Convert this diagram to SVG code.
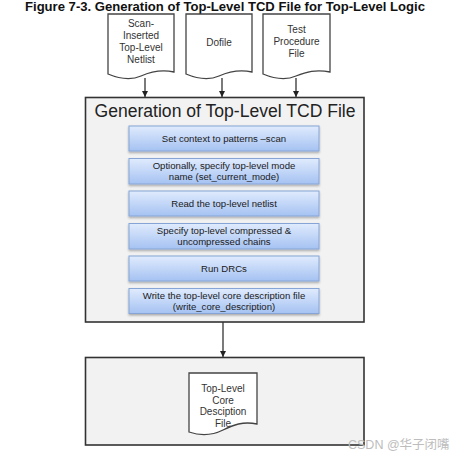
<svg xmlns="http://www.w3.org/2000/svg" width="474" height="460" viewBox="0 0 474 460">
<style>
.t{font-family:"Liberation Sans",Arial,sans-serif;fill:#222;text-anchor:middle}
.doc{fill:#fff;stroke:#444;stroke-width:1.3}
.frame{fill:#f2f2f2;stroke:#333;stroke-width:1.6}
.step{fill:url(#blue);stroke:#86a5d6;stroke-width:1;filter:url(#sh)}
.st{font-family:"Liberation Sans",Arial,sans-serif;font-size:9.6px;fill:#1a1a1a;text-anchor:middle}
.dt{font-family:"Liberation Sans",Arial,sans-serif;font-size:10px;fill:#333;text-anchor:middle}
.conn{stroke:#222;stroke-width:1.2;fill:none;marker-end:url(#ah)}
</style>
<defs>
<linearGradient id="blue" x1="0" y1="0" x2="0" y2="1">
<stop offset="0" stop-color="#e0ebfd"/>
<stop offset="1" stop-color="#a5c2f2"/>
</linearGradient>
<filter id="sh" x="-5%" y="-20%" width="110%" height="150%">
<feDropShadow dx="0" dy="1.5" stdDeviation="1" flood-color="#000" flood-opacity="0.3"/>
</filter>
<marker id="ah" viewBox="0 0 10 10" refX="10" refY="5" markerWidth="6" markerHeight="6" orient="auto" markerUnits="userSpaceOnUse">
<path d="M0,0 L10,5 L0,10 z" fill="#222"/>
</marker>
</defs>
<rect width="474" height="460" fill="#fff"/>
<text x="25" y="11" font-family="'Liberation Sans',Arial,sans-serif" font-size="12" font-weight="bold" fill="#111" textLength="400" lengthAdjust="spacingAndGlyphs">Figure 7-3. Generation of Top-Level TCD File for Top-Level Logic</text>

<g id="connectors">
<line class="conn" x1="145" y1="78" x2="145" y2="97"/>
<line class="conn" x1="222" y1="78" x2="222" y2="97"/>
<line class="conn" x1="296" y1="78" x2="296" y2="97"/>
<line class="conn" x1="223" y1="322" x2="223" y2="357"/>
</g>

<g id="doc-netlist">
<path class="doc" d="M108,14 H174 V72 C160,69 150,72 141,76 C132,80 120,79 108,74 Z"/>
<text class="dt" x="141" y="27">Scan-</text>
<text class="dt" x="141" y="39">Inserted</text>
<text class="dt" x="141" y="51">Top-Level</text>
<text class="dt" x="141" y="63">Netlist</text>
</g>
<g id="doc-dofile">
<path class="doc" d="M186,14 H252 V72 C238,69 228,72 219,76 C210,80 198,79 186,74 Z"/>
<text class="dt" x="219" y="46">Dofile</text>
</g>
<g id="doc-testproc">
<path class="doc" d="M263,14 H330 V72 C316,69 306,72 296,76 C287,80 275,79 263,74 Z"/>
<text class="dt" x="296.5" y="33">Test</text>
<text class="dt" x="296.5" y="45">Procedure</text>
<text class="dt" x="296.5" y="57">File</text>
</g>

<g id="gen-box">
<rect class="frame" x="85.5" y="97.5" width="278.5" height="224.5"/>
<text class="t" x="225" y="117" font-size="17.5" textLength="261" lengthAdjust="spacingAndGlyphs">Generation of Top-Level TCD File</text>
</g>
<g id="step1">
<rect class="step" x="129" y="126" width="190" height="25"/>
<text class="st" x="224" y="142">Set context to patterns –scan</text>
</g>
<g id="step2">
<rect class="step" x="129" y="158.5" width="190" height="25.5"/>
<text class="st" x="224" y="169">Optionally, specify top-level mode</text>
<text class="st" x="224" y="180">name (set_current_mode)</text>
</g>
<g id="step3">
<rect class="step" x="129" y="191" width="190" height="25"/>
<text class="st" x="224" y="207">Read the top-level netlist</text>
</g>
<g id="step4">
<rect class="step" x="129" y="223.5" width="190" height="25.5"/>
<text class="st" x="224" y="234">Specify top-level compressed &amp;</text>
<text class="st" x="224" y="245">uncompressed chains</text>
</g>
<g id="step5">
<rect class="step" x="129" y="256" width="190" height="25"/>
<text class="st" x="224" y="272">Run DRCs</text>
</g>
<g id="step6">
<rect class="step" x="129" y="288.5" width="190" height="25"/>
<text class="st" x="224" y="299">Write the top-level core description file</text>
<text class="st" x="224" y="310">(write_core_description)</text>
</g>

<g id="output-box">
<rect class="frame" x="85.5" y="357.5" width="278.5" height="87.5"/>
</g>
<g id="doc-tcd">
<path class="doc" d="M189,373 H257 V424 C243,421 233,425 223,430 C213,435 201,436 189,432 Z"/>
<text class="dt" x="223" y="391.5">Top-Level</text>
<text class="dt" x="223" y="403.5">Core</text>
<text class="dt" x="223" y="415">Desciption</text>
<text class="dt" x="223" y="426.5">File</text>
</g>

<text x="348" y="449" font-family="'Liberation Sans','Noto Sans CJK SC',sans-serif" font-size="12.5" fill="#bdbdbd">CSDN @华子闭嘴</text>
</svg>
